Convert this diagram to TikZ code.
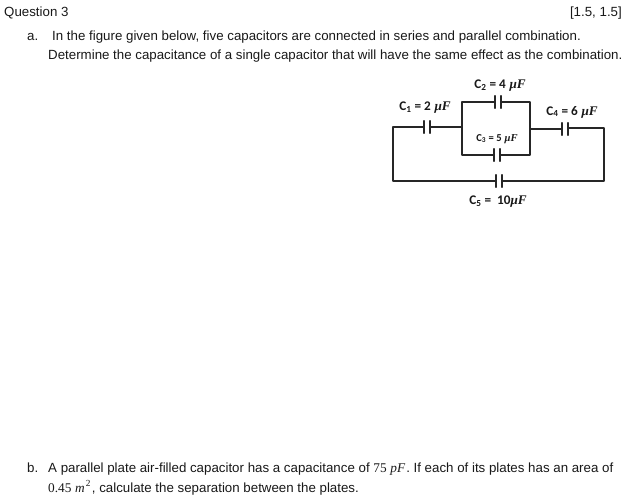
\documentclass[tikz,border=0pt]{standalone}
\usepackage{fontspec}
\setmainfont{Liberation Sans}
\newfontfamily\labelfont{Carlito}
\newfontfamily\mathserif{Liberation Serif}
\newcommand{\qtext}{\fontsize{13.3}{16}\selectfont}
\newcommand{\mi}[1]{{\mathserif\itshape #1}}
\newcommand{\mn}[1]{{\mathserif #1}}
\newcommand{\ulab}{{\mathserif\bfseries\itshape μF}}
\newcommand{\lab}[1]{\textbf{\labelfont C\raisebox{-0.25ex}{\scalebox{0.7}{#1}}}}
\newcommand{\plates}[1]{\draw[wire] (#1.north west) -- (#1.south west) (#1.north east) -- (#1.south east);}
\tikzset{
  wire/.style={draw=black!85, line width=1.5pt, line cap=round, line join=round},
  capbox/.style={rectangle, inner sep=0pt, minimum width=6pt, minimum height=12pt},
  txt/.style={anchor=base west, inner sep=0pt, text=black!90, font=\qtext},
  txtr/.style={anchor=base east, inner sep=0pt, text=black!90, font=\qtext},
  clab/.style={anchor=center, inner sep=0pt, text=black!90, font=\fontsize{13.2}{15}\selectfont},
  clabs/.style={anchor=center, inner sep=0pt, text=black!90, font=\fontsize{10.6}{12}\selectfont}
}
\begin{document}
\begin{tikzpicture}[x=1pt,y=-1pt]
\useasboundingbox[fill=white] (0,0) rectangle (626,499);
\node[txt] (q) at (4,16) {Question 3};
\node[txtr] (m) at (622,16) {[1.5, 1.5]};
\node[txt] (al) at (27,40) {a.};
\node[txt] (a1) at (52,40) {In the figure given below, five capacitors are connected in series and parallel combination.};
\node[txt] (a2) at (48,59) {Determine the capacitance of a single capacitor that will have the same effect as the combination.};
\node[txt] (bl) at (27,472) {b.};
\node[txt] (b1) at (48,472) {A parallel plate air-filled capacitor has a capacitance of \mn{75} \mi{pF}\kern1pt. If each of its plates has an area of};
\node[txt] (b2) at (48,492) {\mn{0.45} \mi{m}\kern1pt\textsuperscript{\mn{2}}\kern1pt, calculate the separation between the plates.};

\coordinate (tl) at (393,127);
\coordinate (bll) at (393,181);
\coordinate (tr) at (604,128);
\coordinate (brr) at (604,181);
\coordinate (jl) at (462,127);
\coordinate (jlt) at (462,102);
\coordinate (jlb) at (462,155);
\coordinate (jr) at (530,129);
\coordinate (jrt) at (530,102);
\coordinate (jrb) at (530,155);
\node[capbox] (c1) at (427,127) {};
\node[capbox] (c2) at (498,102) {};
\node[capbox] (c3) at (497,155) {};
\node[capbox] (c4) at (565,129) {};
\node[capbox] (c5) at (499,181) {};
\plates{c1}\plates{c2}\plates{c3}\plates{c4}\plates{c5}
\draw[wire] (c1.west) -- (tl) -- (bll) -- (c5.west);
\draw[wire] (c5.east) -- (brr) -- (tr) -- (c4.east |- tr);
\draw[wire] (c1.east) -- (jl);
\draw[wire] (c2.west) -- (jlt) -- (jlb) -- (c3.west);
\draw[wire] (c2.east) -- (jrt) -- (jrb) -- (c3.east);
\draw[wire] (jr) -- (c4.west);

\node[clab] (l1) at (425,108) {\lab{1} \textbf{\labelfont = 2} \ulab};
\node[clab] (l2) at (500,86) {\lab{2} \textbf{\labelfont = 4} \ulab};
\node[clabs] (l3) at (497,139) {\lab{3} \textbf{\labelfont = 5} \ulab};
\node[clab] (l4) at (572,112) {\lab{4} \textbf{\labelfont = 6} \ulab};
\node[clab] (l5) at (498,202) {\lab{5} \textbf{\labelfont =\ \ 10}\ulab};
\end{tikzpicture}
\end{document}
